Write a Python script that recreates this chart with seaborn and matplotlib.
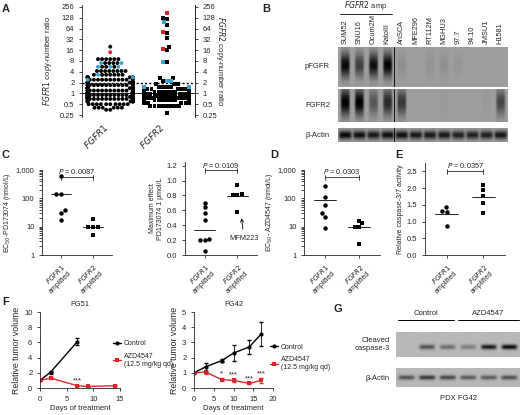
import numpy as np
import pandas as pd
import seaborn as sns
import matplotlib.pyplot as plt

sns.set_style('ticks')
plt.rcParams['font.family'] = ['Liberation Sans', 'DejaVu Sans']
plt.rcParams['font.size'] = 5.5
plt.rcParams['axes.linewidth'] = 0.6
plt.rcParams['xtick.major.width'] = 0.6
plt.rcParams['ytick.major.width'] = 0.6
plt.rcParams['xtick.major.size'] = 2
plt.rcParams['ytick.major.size'] = 2

RED = '#e0242b'
CYAN = '#3aa6d0'

# Panel A: copy-number levels (value, count black, count cyan, count red)
fgfr1_levels = [0.35, 0.4, 0.5, 0.6, 0.7, 0.8, 0.9, 1.0, 1.2, 1.4, 1.7, 2.0, 2.4, 2.8, 3.3, 4.2, 5.5, 7, 9, 14, 20]
fgfr1_black = [2, 6, 10, 14, 18, 20, 22, 22, 20, 18, 16, 14, 11, 9, 7, 8, 3, 4, 6, 0, 1]
fgfr1_cyan = [0, 0, 0, 0, 0, 0, 0, 0, 0, 0, 0, 0, 1, 1, 1, 0, 3, 2, 0, 0, 0]
fgfr1_red = [0] * 19 + [1, 0]
fgfr2_levels = [0.28, 0.45, 0.55, 0.65, 0.75, 0.85, 0.95, 1.1, 1.3, 1.5, 1.8, 2.2, 2.7, 7.5, 16, 17, 20, 35, 48, 50, 80, 95, 115, 125, 170]
fgfr2_black = [1, 8, 16, 24, 28, 30, 30, 24, 14, 4, 3, 1, 2, 1, 1, 0, 1, 1, 1, 0, 1, 0, 1, 1, 0]
fgfr2_cyan = [0, 0, 0, 0, 0, 0, 0, 0, 0, 2, 0, 2, 0, 1, 0, 0, 0, 0, 0, 0, 0, 1, 0, 0, 0]
fgfr2_red = [0, 0, 0, 0, 0, 0, 0, 0, 0, 0, 0, 0, 0, 0, 0, 1, 0, 0, 0, 1, 0, 0, 0, 0, 1]
a_ticks = [0.25, 0.5, 1, 2, 4, 8, 16, 32, 64, 128, 256]

# Panel B blot
b_lanes = ['SUM52', 'SNU16', 'Ocum2M', 'KatoIII', 'AnSCA', 'MFE296', 'RT112M', 'MGHU3', '97.7', '94.10', 'JMSU1', 'H1581']
b_pfgfr = [0.95, 0.6, 0.9, 1.0, 0.1, 0.0, 0.08, 0.1, 0.05, 0.0, 0.0, 0.0]
b_fgfr2 = [1.0, 1.0, 0.45, 0.75, 0.65, 0.0, 0.0, 0.03, 0.0, 0.0, 0.03, 0.55]
b_actin = [0.95, 0.9, 0.85, 0.9, 0.9, 0.85, 0.85, 0.85, 0.8, 0.8, 0.8, 0.85]

# Panels C-E
c1_fgfr1 = [600, 140, 140, 38, 30, 17]
c1_fgfr2 = [18, 10, 10, 10, 5]
c1_lines = [140, 10]
c2_fgfr1 = [0.70, 0.64, 0.57, 0.47, 0.21, 0.20, 0.20, 0.06]
c2_fgfr2 = [0.94, 0.82, 0.80, 0.80, 0.58]
c2_lines = [0.34, 0.79]
d_fgfr1 = [280, 110, 60, 30, 22, 9]
d_fgfr2 = [16, 13, 10, 10, 2.4]
d_lines = [85, 10]
e_fgfr1 = [1.43, 1.32, 1.30, 0.88]
e_fgfr2 = [2.08, 1.93, 1.75, 1.55, 1.25]
e_lines = [1.23, 1.73]
groups = ['FGFR1\namplified', 'FGFR2\namplified']

# Panel F
f1_ctrl_days = [0, 2, 7]
f1_ctrl = [1, 2.1, 6.1]
f1_ctrl_err = [0, 0.2, 0.5]
f1_azd_days = [0, 2, 7, 9, 14]
f1_azd = [1, 1.3, 0.3, 0.2, 0.3]
f1_azd_err = [0, 0.1, 0.1, 0.05, 0.05]
f2_ctrl_days = [0, 3, 7, 10, 14, 17]
f2_ctrl = [1, 1.4, 1.8, 2.3, 2.7, 3.55]
f2_ctrl_err = [0, 0.25, 0.1, 0.5, 0.45, 0.8]
f2_azd_days = [0, 3, 7, 10, 14, 17]
f2_azd = [1, 1.05, 0.55, 0.5, 0.3, 0.5]
f2_azd_err = [0, 0.1, 0.1, 0.1, 0.05, 0.15]

# Panel G blot
g_cleaved = [0.0, 0.55, 0.4, 0.3, 0.85, 0.95]
g_actin = [0.55, 0.7, 0.6, 0.5, 0.5, 0.55]

W, H = 520, 415
fig = plt.figure(figsize=(W / 100, H / 100), dpi=100)


def px_axes(l, t, r, b):
    return fig.add_axes([l / W, 1 - b / H, (r - l) / W, (b - t) / H])


def letter(x, y, s):
    fig.text(x / W, 1 - y / H, s, fontsize=8, fontweight='bold', va='top')


def expand(levels, *counts):
    vals, kinds = [], []
    for kind, cnt in zip(['black', 'cyan', 'red'], counts):
        vals += list(np.repeat(levels, cnt))
        kinds += [kind] * int(sum(cnt))
    return vals, kinds


# ---- A
v1, k1 = expand(fgfr1_levels, fgfr1_black, fgfr1_cyan, fgfr1_red)
v2, k2 = expand(fgfr2_levels, fgfr2_black, fgfr2_cyan, fgfr2_red)
df_a = pd.DataFrame({'gene': ['FGFR1'] * len(v1) + ['FGFR2'] * len(v2), 'ratio': v1 + v2, 'kind': k1 + k2})
pal = {'black': 'black', 'cyan': CYAN, 'red': RED}
ax = px_axes(82, 5, 195, 117)
ax.set_yscale('log', base=2)
ax.set_ylim(0.22, 290)
sns.swarmplot(data=df_a[df_a.gene == 'FGFR1'], x='gene', y='ratio', hue='kind', palette=pal, order=['FGFR1', 'FGFR2'],
              marker='o', size=2.8, linewidth=0, ax=ax, legend=False, warn_thresh=1)
sns.swarmplot(data=df_a[df_a.gene == 'FGFR2'], x='gene', y='ratio', hue='kind', palette=pal, order=['FGFR1', 'FGFR2'],
              marker='s', size=2.8, linewidth=0, ax=ax, legend=False, warn_thresh=1)
ax.axhline(1, color='black', lw=0.6)
ax.axhline(2, color='black', lw=1, ls=(0, (1.5, 1.5)))
ax.set_yticks(a_ticks)
ax.set_yticklabels([f'{t:g}' for t in a_ticks])
ax.set_xlabel('')
ax.set_ylabel(r'$\it{FGFR1}$ copy-number ratio', fontsize=5.5)
ax.set_xticks([0, 1])
ax.set_xticklabels([r'$\it{FGFR1}$', r'$\it{FGFR2}$'], rotation=45, ha='right', fontsize=6.5)
ax.spines['top'].set_visible(False)
ax.spines['bottom'].set_visible(False)
ax.tick_params(axis='x', length=0)
ax2 = ax.twinx()
ax2.set_yscale('log', base=2)
ax2.set_ylim(ax.get_ylim())
ax2.set_yticks(a_ticks)
ax2.set_yticklabels([f'{t:g}' for t in a_ticks])
ax2.set_ylabel(r'$\it{FGFR2}$ copy-number ratio', fontsize=5.5, rotation=270, labelpad=7)
for s in ['top', 'bottom', 'left']:
    ax2.spines[s].set_visible(False)
letter(2, 4, 'A')


# ---- blots
def blot(ax, vals, width=0.32, height=0.55, bg=0.62, y0=0.5):
    n = len(vals)
    xs = np.linspace(0, n, n * 30)
    ys = np.linspace(0, 1, 60)
    img = np.full((len(ys), len(xs)), bg)
    lane_x = (np.arange(n) + 0.5)
    for i, v in enumerate(vals):
        prof_x = np.exp(-((xs - lane_x[i]) / width) ** 6)
        prof_y = np.exp(-((ys - y0) / (height / 2)) ** 2)
        img -= bg * v * np.outer(prof_y, prof_x)
    ax.imshow(np.clip(img, 0, 1), cmap='gray', vmin=0, vmax=1, aspect='auto', extent=[0, n, 1, 0])
    ax.set_xticks([])
    ax.set_yticks([])
    for s in ax.spines.values():
        s.set_visible(False)


letter(262, 4, 'B')
bx = px_axes(338, 47, 507, 87)
blot(bx, b_pfgfr, height=0.6, y0=0.45)
bx.axvline(4, color='black', lw=0.6)
bx = px_axes(338, 89, 507, 122)
blot(bx, b_fgfr2, height=0.8, y0=0.4)
bx.axvline(4, color='black', lw=0.6)
bx = px_axes(338, 128, 507, 142)
blot(bx, b_actin, width=0.45, height=0.6)
bx.axvline(4, color='black', lw=0.6)
for i, lab in enumerate(b_lanes):
    fig.text((338 + (i + 0.5) * 169 / 12) / W, 1 - 44 / H, lab, rotation=90, ha='center', va='bottom', fontsize=5.3)
fig.text(330 / W, 1 - 67 / H, 'pFGFR', ha='right', va='center', fontsize=5.5)
fig.text(330 / W, 1 - 105 / H, 'FGFR2', ha='right', va='center', fontsize=5.5)
fig.text(330 / W, 1 - 135 / H, 'β-Actin', ha='right', va='center', fontsize=5.5)
fig.add_artist(plt.Line2D([340 / W, 392 / W], [1 - 14 / H, 1 - 14 / H], color='black', lw=0.6))
fig.text(366 / W, 1 - 12 / H, r'$\it{FGFR2}$ amp', ha='center', va='bottom', fontsize=5.5)


# ---- C, D, E
def dotpanel(box, g1, g2, lines, log, ylim, yticks, ylabel, pval):
    ax = px_axes(*box)
    df = pd.DataFrame({'grp': [groups[0]] * len(g1) + [groups[1]] * len(g2), 'v': g1 + g2})
    if log:
        ax.set_yscale('log')
    ax.set_ylim(*ylim)
    sns.swarmplot(data=df[df.grp == groups[0]], x='grp', y='v', order=groups, color='black', marker='o', size=3.2, ax=ax)
    sns.swarmplot(data=df[df.grp == groups[1]], x='grp', y='v', order=groups, color='black', marker='s', size=3.2, ax=ax)
    for i, m in enumerate(lines):
        ax.plot([i - 0.32, i + 0.32], [m, m], color='black', lw=0.6)
    ax.set_xlim(-0.6, 1.6)
    ax.set_yticks(yticks)
    ax.set_yticklabels([f'{t:,g}' if log else f'{t:.1f}' for t in yticks])
    ax.set_xlabel('')
    ax.set_ylabel(ylabel, fontsize=5.0, labelpad=2)
    ax.set_xticks([0, 1])
    ax.set_xticklabels([r'$\it{FGFR1}$' + '\namplified', r'$\it{FGFR2}$' + '\namplified'], rotation=45, ha='right',
                       fontsize=5, rotation_mode='anchor')
    ax.spines['top'].set_visible(False)
    ax.spines['right'].set_visible(False)
    yt = ylim[1] * (0.55 if log else 0.91)
    ax.plot([0, 1], [yt, yt], color='black', lw=0.5)
    for xx in [0, 1]:
        ax.plot([xx, xx], [yt * (0.8 if log else 0.97), yt * (1.25 if log else 1.03)], color='black', lw=0.5)
    ax.text(0.5, yt * (1.1 if log else 1.01), r'$\it{P}$ = ' + pval, ha='center', va='bottom', fontsize=5.3)
    return ax


letter(2, 150, 'C')
dotpanel((42, 170, 112, 255), c1_fgfr1, c1_fgfr2, c1_lines, True, (1, 1000), [1, 10, 100, 1000],
         r'EC$_{50}$-PD173074 (nmol/L)', '0.0087')
ax = dotpanel((185, 162, 257, 255), c2_fgfr1, c2_fgfr2, c2_lines, False, (0, 1.25), [0, .2, .4, .6, .8, 1.0, 1.2],
              'Maximum effect\nPD173074 1 μmol/L', '0.0109')
ax.annotate('MFM223', xy=(1.12, 0.53), xytext=(1.2, 0.2), fontsize=5.3, ha='center',
            arrowprops=dict(arrowstyle='->', lw=0.6, color='black'))
letter(270, 150, 'D')
dotpanel((304, 170, 380, 255), d_fgfr1, d_fgfr2, d_lines, True, (1, 1000), [1, 10, 100, 1000],
         r'EC$_{50}$- AZD4547 (nmol/L)', '0.0303')
letter(395, 150, 'E')
dotpanel((425, 163, 505, 255), e_fgfr1, e_fgfr2, e_lines, False, (0, 2.75), [0, .5, 1.0, 1.5, 2.0, 2.5],
         'Relative caspase-3/7 activity', '0.0357')


# ---- F
def growth(box, cd, cv, ce, ad, av, ae, xlim, xt, ylim, yt, title, stars, legend_xy):
    ax = px_axes(*box)
    dfc = pd.DataFrame({'d': cd, 'v': cv})
    dfa = pd.DataFrame({'d': ad, 'v': av})
    sns.lineplot(data=dfc, x='d', y='v', color='black', marker='o', markersize=3, lw=1, ax=ax,
                 label='Control', markeredgewidth=0)
    sns.lineplot(data=dfa, x='d', y='v', color=RED, marker='s', markersize=3, lw=1, ax=ax,
                 label='AZD4547\n(12.5 mg/kg qd)', markeredgewidth=0)
    ax.errorbar(cd, cv, yerr=ce, fmt='none', ecolor='black', elinewidth=0.6, capsize=1.5)
    ax.errorbar(ad, av, yerr=ae, fmt='none', ecolor=RED, elinewidth=0.6, capsize=1.5)
    for x, y, s in stars:
        ax.text(x, y, s, ha='center', va='bottom', fontsize=5.5)
    ax.set_xlim(*xlim)
    ax.set_ylim(*ylim)
    ax.set_xticks(xt)
    ax.set_yticks(yt)
    ax.set_xlabel('Days of treatment', fontsize=5.5, labelpad=2)
    ax.set_ylabel('Relative tumor volume', fontsize=6.3, labelpad=2)
    ax.set_title(title, fontsize=5.5, pad=4)
    ax.spines['top'].set_visible(False)
    ax.spines['right'].set_visible(False)
    ax.legend(loc='center left', bbox_to_anchor=legend_xy, frameon=False, fontsize=5.0, handlelength=1.1,
              handletextpad=0.4, borderaxespad=0, labelspacing=0.8)


letter(2, 297, 'F')
growth((40, 312, 120, 388), f1_ctrl_days, f1_ctrl, f1_ctrl_err, f1_azd_days, f1_azd, f1_azd_err,
       (0, 15), [0, 5, 10, 15], (0, 10), [0, 2, 4, 6, 8, 10], 'FG51', [(7, 0.5, '***')], (0.88, 0.45))
growth((194, 312, 273, 388), f2_ctrl_days, f2_ctrl, f2_ctrl_err, f2_azd_days, f2_azd, f2_azd_err,
       (0, 20), [0, 5, 10, 15, 20], (0, 5), [0, 1, 2, 3, 4, 5], 'FG42',
       [(7, 0.7, '*'), (10, 0.65, '***'), (14, 0.4, '***'), (17, 0.7, '***')], (0.93, 0.4))

# ---- G
letter(333, 304, 'G')
gx = px_axes(396, 332, 520, 357)
blot(gx, g_cleaved, width=0.38, height=0.2, y0=0.6, bg=0.72)
gx = px_axes(396, 368, 520, 387)
blot(gx, g_actin, width=0.4, height=0.25, y0=0.5, bg=0.72)
fig.add_artist(plt.Line2D([398 / W, 454 / W], [1 - 320 / H] * 2, color='black', lw=0.7))
fig.add_artist(plt.Line2D([458 / W, 519 / W], [1 - 320 / H] * 2, color='black', lw=0.7))
fig.text(426 / W, 1 - 317 / H, 'Control', ha='center', va='bottom', fontsize=5.5)
fig.text(488 / W, 1 - 317 / H, 'AZD4547', ha='center', va='bottom', fontsize=5.5)
fig.text(390 / W, 1 - 344 / H, 'Cleaved\ncaspase-3', ha='right', va='center', fontsize=5.5)
fig.text(390 / W, 1 - 378 / H, 'β-Actin', ha='right', va='center', fontsize=5.5)
fig.text(458 / W, 1 - 398 / H, 'PDX FG42', ha='center', va='center', fontsize=5.5)

fig.savefig('out.png', dpi=100)
